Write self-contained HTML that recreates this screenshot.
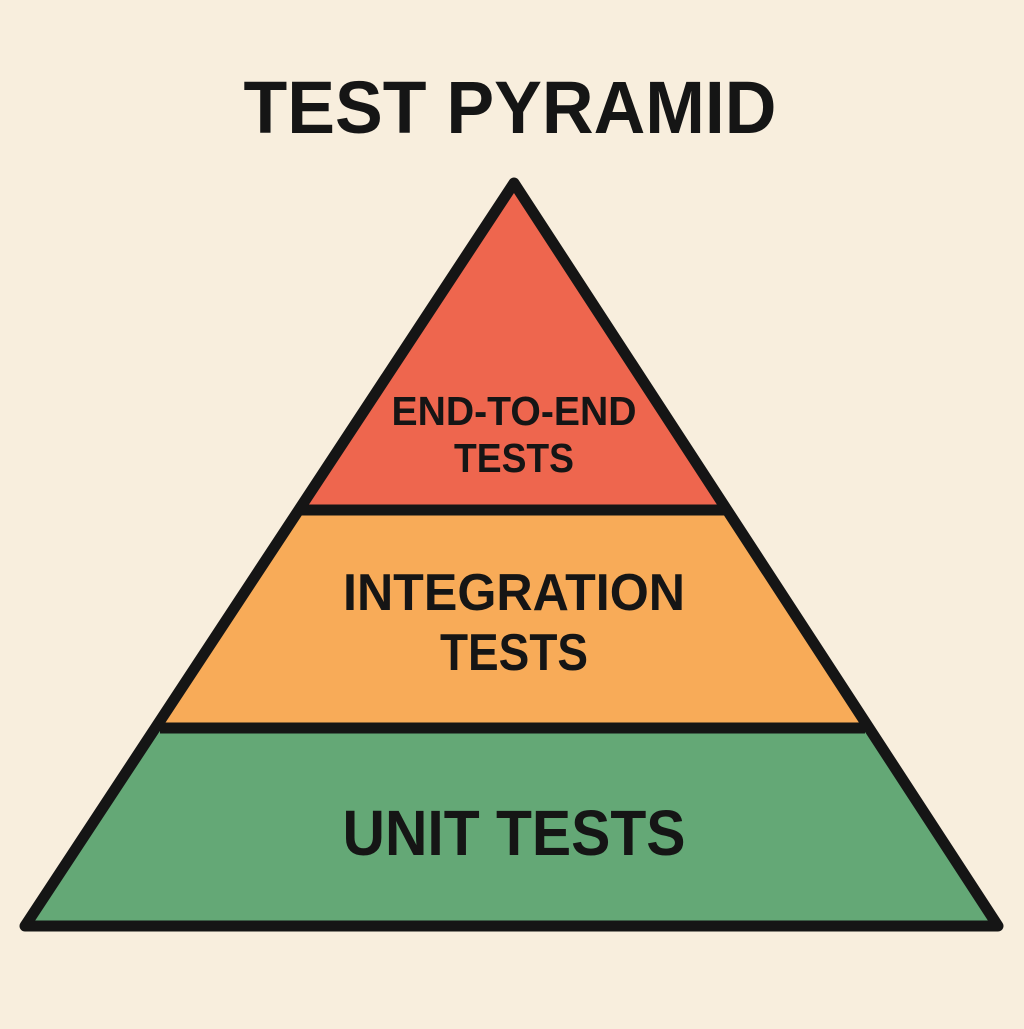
<!DOCTYPE html>
<html><head><style>html,body{margin:0;padding:0;background:#f8eedd;}</style></head>
<body>
<svg width="1024" height="1024" viewBox="0 0 1024 1024" xmlns="http://www.w3.org/2000/svg">
<rect width="1024" height="1024" fill="#f8eedd"/>
<polygon points="514,183 727,510 300,510" fill="#ee664e"/>
<polygon points="300,510 727,510 865,728 160,728" fill="#f8ab58"/>
<polygon points="160,728 865,728 998,926 25,926" fill="#64a876"/>
<polygon points="514,183 998,926 25,926" fill="none" stroke="#151515" stroke-width="11" stroke-linejoin="round"/>
<line x1="300" y1="510" x2="727" y2="510" stroke="#151515" stroke-width="11"/>
<line x1="160" y1="728" x2="865" y2="728" stroke="#151515" stroke-width="11"/>
<g font-family="Liberation Sans, sans-serif" font-weight="bold" fill="#151515" text-anchor="middle">
<text x="510" y="133" font-size="74" textLength="533" lengthAdjust="spacingAndGlyphs">TEST PYRAMID</text>
<text x="514" y="425" font-size="41" textLength="245" lengthAdjust="spacingAndGlyphs">END-TO-END</text>
<text x="514" y="472" font-size="41" textLength="120" lengthAdjust="spacingAndGlyphs">TESTS</text>
<text x="514" y="610" font-size="52" textLength="342" lengthAdjust="spacingAndGlyphs">INTEGRATION</text>
<text x="514" y="670" font-size="52" textLength="148" lengthAdjust="spacingAndGlyphs">TESTS</text>
<text x="514" y="855" font-size="64" textLength="343" lengthAdjust="spacingAndGlyphs">UNIT TESTS</text>
</g>
</svg>
</body></html>
